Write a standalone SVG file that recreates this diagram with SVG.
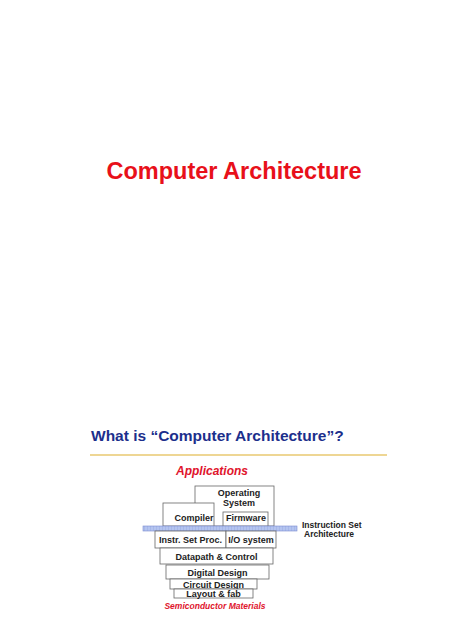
<svg xmlns="http://www.w3.org/2000/svg" width="474" height="632" viewBox="0 0 474 632">
<defs>
<style>
.box{fill:#fff;stroke:#666;stroke-width:0.8}
.t{font-family:"Liberation Sans",Arial,sans-serif;font-weight:bold;font-size:9px;fill:#222;text-anchor:middle}
.red{font-family:"Liberation Sans",Arial,sans-serif;font-weight:bold;font-style:italic;fill:#e0142c;text-anchor:middle}
</style>
<pattern id="grid" width="3" height="5" patternUnits="userSpaceOnUse">
<rect width="3" height="5" fill="#b4c4f0"/>
<line x1="0" y1="0" x2="0" y2="5" stroke="#8a9ad8" stroke-width="0.6"/>
</pattern>
</defs>
<rect width="474" height="632" fill="#fff"/>
<text x="234" y="179" font-family="Liberation Sans,Arial,sans-serif" font-weight="bold" font-size="23.5" fill="#e8101a" text-anchor="middle">Computer Architecture</text>
<text x="91" y="441" font-family="Liberation Sans,Arial,sans-serif" font-weight="bold" font-size="15.5" fill="#1c2f8c">What is “Computer Architecture”?</text>
<line x1="90" y1="455" x2="387" y2="455" stroke="#e8c870" stroke-width="1.5"/>
<text class="red" x="212" y="475" font-size="12">Applications</text>
<g id="os"><rect class="box" x="195" y="486" width="79" height="40"/><text class="t" x="239" y="496">Operating</text><text class="t" x="239" y="506">System</text></g>
<g id="compiler"><rect class="box" x="163" y="503" width="51" height="23"/><text class="t" x="194" y="521">Compiler</text></g>
<g id="firmware"><rect class="box" x="223" y="512" width="45" height="14"/><text class="t" x="246" y="521">Firmware</text></g>
<g id="isa-bar"><rect x="143" y="526" width="154" height="5" fill="url(#grid)" stroke="#7a8ad0" stroke-width="0.6"/></g>
<g id="isa-label"><text font-family="Liberation Sans,Arial,sans-serif" font-weight="bold" font-size="8.5" fill="#222"><tspan x="302" y="528">Instruction Set</tspan><tspan x="304" y="537">Architecture</tspan></text></g>
<g id="instr"><rect class="box" x="155" y="531" width="71" height="17"/><text class="t" x="190.5" y="543">Instr. Set Proc.</text></g>
<g id="io"><rect class="box" x="226" y="531" width="50" height="17"/><text class="t" x="251" y="543">I/O system</text></g>
<g id="datapath"><rect class="box" x="160" y="548" width="113" height="16"/><text class="t" x="216.5" y="560">Datapath &amp; Control</text></g>
<g id="digital"><rect class="box" x="166" y="565" width="103" height="14"/><text class="t" x="217.5" y="576">Digital Design</text></g>
<g id="circuit"><rect class="box" x="170" y="579" width="87" height="10"/><text class="t" x="213.5" y="587.5">Circuit Design</text></g>
<g id="layout"><rect class="box" x="174" y="589" width="79" height="9"/><text class="t" x="213.5" y="597" font-size="8">Layout &amp; fab</text></g>
<text class="red" x="215" y="609" font-size="8.5">Semiconductor Materials</text>
</svg>
